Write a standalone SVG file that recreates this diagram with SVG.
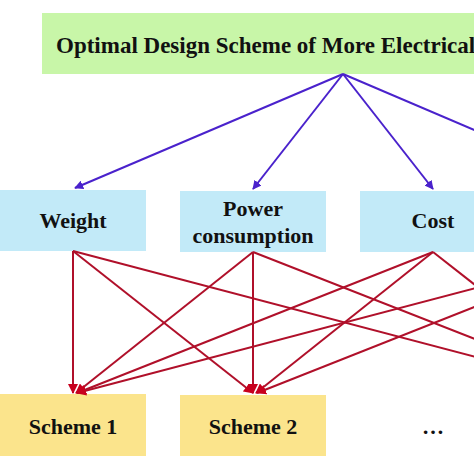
<svg xmlns="http://www.w3.org/2000/svg" width="474" height="474" viewBox="0 0 474 474">
<defs>
<style>
.t{font-family:"Liberation Serif","Times New Roman",serif;font-weight:bold;fill:#111;text-anchor:middle}
.blue{stroke:#4a22cc;stroke-width:2;fill:none}
.red{stroke:#b0102a;stroke-width:2;fill:none}
</style>
<marker id="ab" viewBox="0 0 10 10" refX="9" refY="5" markerWidth="9" markerHeight="9" markerUnits="userSpaceOnUse" orient="auto"><path d="M0,0 L10,5 L0,10 z" fill="#4a22cc"/></marker>
<marker id="ar" viewBox="0 0 10 10" refX="9" refY="5" markerWidth="10" markerHeight="10" markerUnits="userSpaceOnUse" orient="auto"><path d="M0,0 L10,5 L0,10 z" fill="#c8001e"/></marker>
</defs>
<rect width="474" height="474" fill="#fff"/>
<g id="top"><rect x="42" y="13" width="602" height="61" fill="#c8f6a8"/><text class="t" x="56" y="53" font-size="23" style="text-anchor:start">Optimal Design Scheme of More Electrical</text></g>
<g id="weight"><rect x="0" y="190" width="146" height="61" fill="#c2eaf8"/><text class="t" x="73" y="228" font-size="22">Weight</text></g>
<g id="power"><rect x="180" y="191" width="146" height="61" fill="#c2eaf8"/><text class="t" x="253" y="216" font-size="22">Power</text><text class="t" x="253" y="243" font-size="22">consumption</text></g>
<g id="cost"><rect x="360" y="191" width="146" height="61" fill="#c2eaf8"/><text class="t" x="433" y="228" font-size="22">Cost</text></g>
<g id="scheme1"><rect x="0" y="394" width="146" height="62" fill="#fbe48c"/><text class="t" x="73" y="434" font-size="22">Scheme 1</text></g>
<g id="scheme2"><rect x="180" y="395" width="146" height="61" fill="#fbe48c"/><text class="t" x="253" y="434" font-size="22">Scheme 2</text></g>
<g id="ellipsis"><text class="t" x="433" y="434" font-size="22">…</text></g>
<g id="connectors">
<line class="blue" x1="343" y1="74" x2="75" y2="188" marker-end="url(#ab)"/>
<line class="blue" x1="343" y1="74" x2="253" y2="189" marker-end="url(#ab)"/>
<line class="blue" x1="343" y1="74" x2="433" y2="189" marker-end="url(#ab)"/>
<line class="blue" x1="343" y1="74" x2="613" y2="189" marker-end="url(#ab)"/>
<line class="red" x1="73" y1="251" x2="73" y2="393" marker-end="url(#ar)"/>
<line class="red" x1="73" y1="251" x2="253" y2="393" marker-end="url(#ar)"/>
<line class="red" x1="73" y1="251" x2="613" y2="393" marker-end="url(#ar)"/>
<line class="red" x1="253" y1="252" x2="76" y2="393" marker-end="url(#ar)"/>
<line class="red" x1="253" y1="252" x2="253" y2="393" marker-end="url(#ar)"/>
<line class="red" x1="253" y1="252" x2="613" y2="393" marker-end="url(#ar)"/>
<line class="red" x1="433" y1="252" x2="77" y2="393" marker-end="url(#ar)"/>
<line class="red" x1="433" y1="252" x2="256" y2="393" marker-end="url(#ar)"/>
<line class="red" x1="433" y1="252" x2="613" y2="393" marker-end="url(#ar)"/>
<line class="red" x1="613" y1="252" x2="77" y2="393" marker-end="url(#ar)"/>
<line class="red" x1="613" y1="252" x2="257" y2="393" marker-end="url(#ar)"/>
<line class="red" x1="613" y1="252" x2="613" y2="393" marker-end="url(#ar)"/>
</g>
</svg>
